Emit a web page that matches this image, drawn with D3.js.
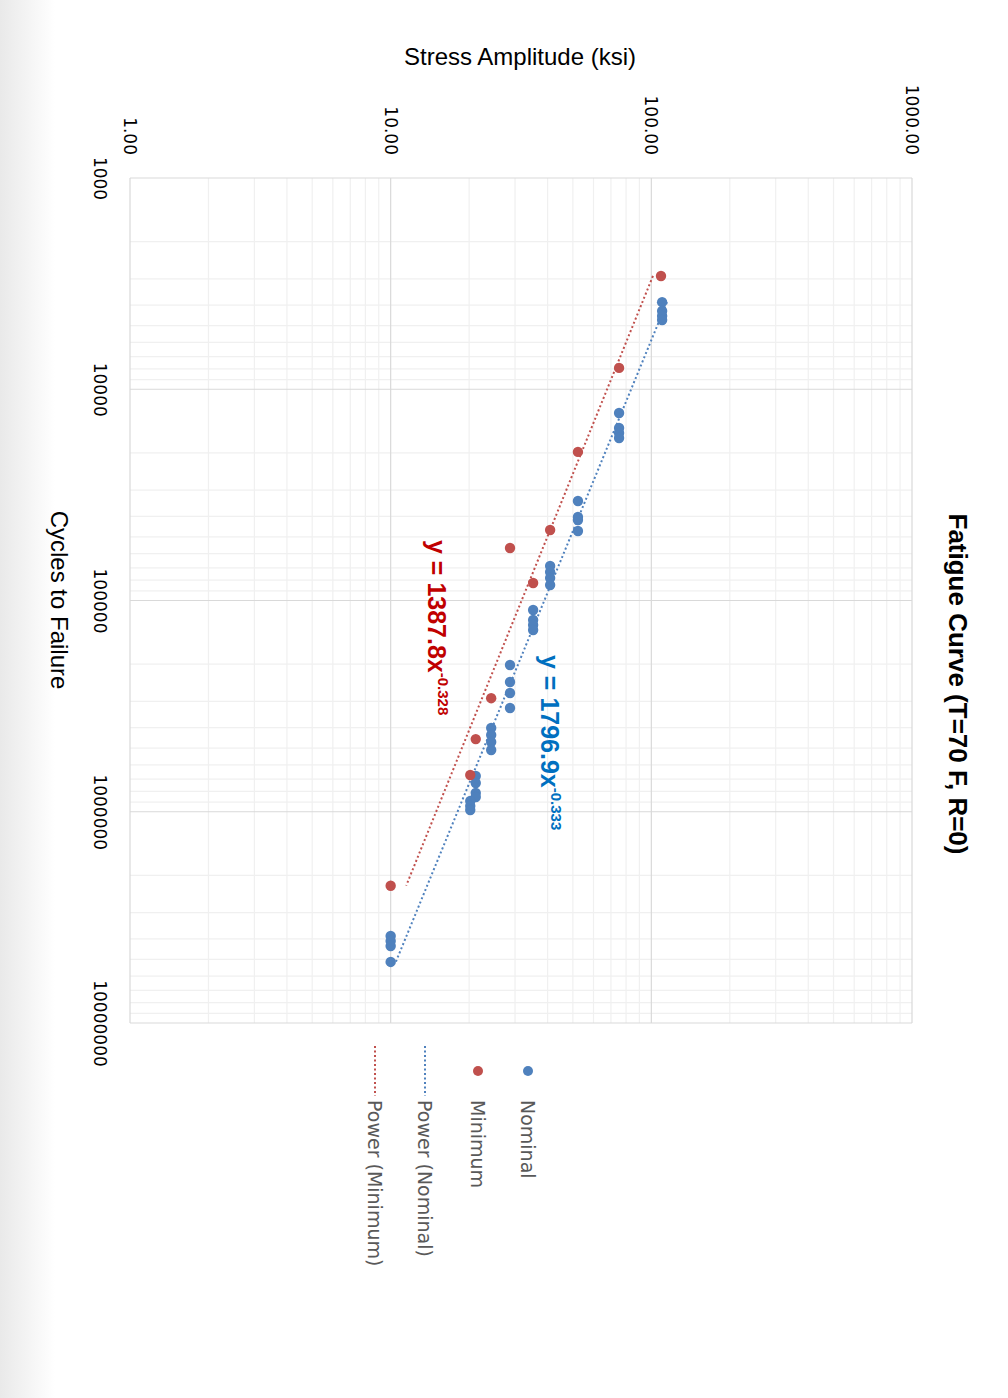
<!DOCTYPE html>
<html>
<head>
<meta charset="utf-8">
<script src="https://cdn.jsdelivr.net/npm/d3@7"></script>
<style>
  body { margin: 0; background: #fff; }
  svg { display: block; }
</style>
</head>
<body>
<svg id="chart" width="1008" height="1398"></svg>
<script>
// axis ticks
const cyclesTicks = [1000, 10000, 100000, 1000000, 10000000];
const stressTicks = [1, 10, 100, 1000];

// Nominal series (cycles, ksi)
const nominalCycles = [3870, 4260, 4500, 4700, 12960, 15260, 16110, 17010,
  33800, 40250, 41590, 46880, 68660, 73300, 78270, 84460,
  110900, 123700, 130600, 137900, 202000, 243100, 274100, 322800,
  401500, 433200, 467500, 510200, 677500, 731000, 815400, 851500,
  889500, 939300, 981000, 3874000, 4090000, 4320000, 5140000];
const nominalStress = [110, 110, 110, 110, 75.2, 75.2, 75.2, 75.2,
  52.3, 52.3, 52.3, 52.3, 40.9, 40.9, 40.9, 40.9,
  35.2, 35.2, 35.2, 35.2, 28.7, 28.7, 28.7, 28.7,
  24.3, 24.3, 24.3, 24.3, 21.2, 21.2, 21.2, 21.2,
  20.2, 20.2, 20.2, 10, 10, 10, 10];

// Minimum series
const minimumCycles = [2910, 7925, 19800, 46400, 56400, 82600, 290000, 453000, 670000, 2240000];
const minimumStress = [108.9, 75.2, 52.3, 40.9, 28.7, 35.2, 24.3, 21.2, 20.2, 10];

// power trendlines y = a * x^b
const nominalFit = [1796.9, -0.333];
const minimumFit = [1387.8, -0.328];

const legendNames = ["Nominal", "Minimum", "Power (Nominal)", "Power (Minimum)"];

const blue = "#4f81bd", red = "#c0504d";

const svg = d3.select("#chart");

// faint shading strip on the left edge of the page
const grad = svg.append("defs").append("linearGradient")
    .attr("id", "edge").attr("x1", 0).attr("x2", 1);
grad.append("stop").attr("offset", 0).attr("stop-color", "#e9e9e9");
grad.append("stop").attr("offset", 1).attr("stop-color", "#ffffff");
svg.append("rect").attr("x", 0).attr("y", 0).attr("width", 55).attr("height", 1398)
    .attr("fill", "url(#edge)");

// the chart is drawn landscape and turned a quarter clockwise
const W = 1398, H = 1008;
const g = svg.append("g").attr("transform", `translate(${H},0) rotate(90)`);

const x = d3.scaleLog().domain([1000, 10000000]).range([178, 1023]);
const y = d3.scaleLog().domain([1, 1000]).range([878, 96]);

function minorValues(ticks) {
    const out = [];
    for (let i = 0; i < ticks.length - 1; i++)
        for (let k = 2; k <= 9; k++) out.push(ticks[i] * k);
    return out;
}

// minor grid
g.append("g").selectAll("line").data(minorValues(cyclesTicks)).join("line")
    .attr("x1", d => x(d)).attr("x2", d => x(d))
    .attr("y1", y(1000)).attr("y2", y(1))
    .attr("stroke", "#f0f0f0").attr("stroke-width", 1.2);
g.append("g").selectAll("line").data(minorValues(stressTicks)).join("line")
    .attr("y1", d => y(d)).attr("y2", d => y(d))
    .attr("x1", x(1000)).attr("x2", x(10000000))
    .attr("stroke", "#f0f0f0").attr("stroke-width", 1.2);

// major grid
g.append("g").selectAll("line").data(cyclesTicks).join("line")
    .attr("x1", d => x(d)).attr("x2", d => x(d))
    .attr("y1", y(1000)).attr("y2", y(1))
    .attr("stroke", "#d9d9d9").attr("stroke-width", 1.2);
g.append("g").selectAll("line").data(stressTicks).join("line")
    .attr("y1", d => y(d)).attr("y2", d => y(d))
    .attr("x1", x(1000)).attr("x2", x(10000000))
    .attr("stroke", "#d9d9d9").attr("stroke-width", 1.2);

// axes (labels only)
const xAxis = g.append("g")
    .attr("transform", `translate(0,${y(1)})`)
    .call(d3.axisBottom(x).tickValues(cyclesTicks).tickFormat(d3.format("d")).tickSize(0).tickPadding(24));
const yAxis = g.append("g")
    .attr("transform", `translate(${x(1000)},0)`)
    .call(d3.axisLeft(y).tickValues(stressTicks).tickFormat(d3.format(".2f")).tickSize(0).tickPadding(23));
[xAxis, yAxis].forEach(a => {
    a.select(".domain").remove();
    a.selectAll("text")
        .style("font-family", "DejaVu Sans")
        .style("font-size", "17px")
        .attr("fill", "#000");
});

// trendlines
function drawFit(fit, cycles, color) {
    const ext = d3.extent(cycles);
    const pts = ext.map(n => [n, fit[0] * Math.pow(n, fit[1])]);
    g.append("path")
        .datum(pts)
        .attr("fill", "none")
        .attr("stroke", color)
        .attr("stroke-width", 2)
        .attr("stroke-dasharray", "2,2.5")
        .attr("d", d3.line().x(d => x(d[0])).y(d => y(d[1])));
}
drawFit(nominalFit, nominalCycles, blue);
drawFit(minimumFit, minimumCycles, red);

// points
g.append("g").selectAll("circle").data(d3.zip(nominalCycles, nominalStress)).join("circle")
    .attr("cx", d => x(d[0])).attr("cy", d => y(d[1])).attr("r", 5.2).attr("fill", blue);
g.append("g").selectAll("circle").data(d3.zip(minimumCycles, minimumStress)).join("circle")
    .attr("cx", d => x(d[0])).attr("cy", d => y(d[1])).attr("r", 5.2).attr("fill", red);

// trendline equations
function equation(fit, ux, vy, color) {
    const t = g.append("text")
        .attr("x", ux).attr("y", vy)
        .attr("fill", color)
        .style("font-family", "Liberation Sans")
        .style("font-weight", "bold")
        .style("font-size", "25px");
    t.append("tspan").text(`y = ${fit[0]}x`);
    t.append("tspan").attr("dy", -10).style("font-size", "15px").text(fit[1]);
}
equation(minimumFit, 540, 580, "#c00000");
equation(nominalFit, 655, 467, "#0070c0");

// title
g.append("text")
    .attr("x", 684).attr("y", 59)
    .attr("text-anchor", "middle")
    .style("font-family", "Liberation Sans")
    .style("font-weight", "bold")
    .style("font-size", "26px")
    .text("Fatigue Curve (T=70 F, R=0)");

// axis titles
g.append("text")
    .attr("x", 600).attr("y", 957)
    .attr("text-anchor", "middle")
    .style("font-family", "Liberation Sans")
    .style("font-size", "24px")
    .text("Cycles to Failure");
g.append("text")
    .attr("transform", `translate(57,${1008 - 520}) rotate(-90)`)
    .attr("text-anchor", "middle")
    .attr("dy", "0.35em")
    .style("font-family", "Liberation Sans")
    .style("font-size", "24px")
    .text("Stress Amplitude (ksi)");

// legend
const legendV = [480, 530, 583, 633];
const leg = g.append("g").selectAll("g").data(legendNames).join("g")
    .attr("transform", (d, i) => `translate(0,${legendV[i]})`);
leg.each(function (d, i) {
    const s = d3.select(this);
    const color = (i % 2 === 0) ? blue : red;
    if (i < 2) {
        s.append("circle").attr("cx", 1071).attr("cy", 0).attr("r", 5).attr("fill", color);
    } else {
        s.append("line").attr("x1", 1046).attr("x2", 1096)
            .attr("stroke", color).attr("stroke-width", 2).attr("stroke-dasharray", "2,2.5");
    }
    s.append("text")
        .attr("x", 1100).attr("dy", "0.35em")
        .attr("fill", "#595959")
        .style("font-family", "DejaVu Sans")
        .style("font-size", "19px")
        .text(d);
});
</script>
</body>
</html>
